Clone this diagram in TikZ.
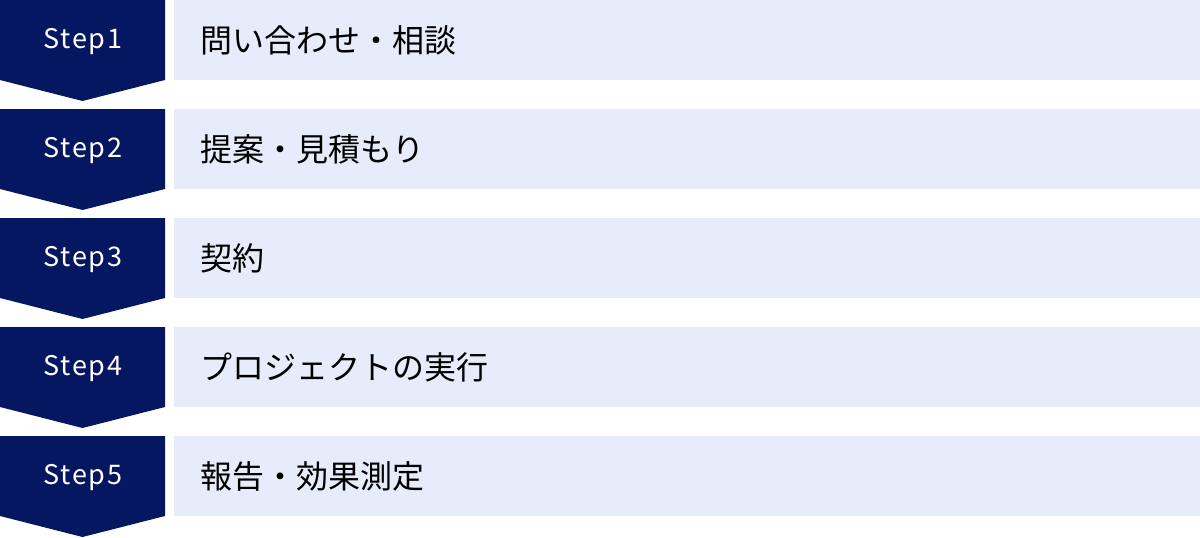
\documentclass[tikz,border=0pt]{standalone}
\usepackage{fontspec}
\setmainfont{Noto Sans CJK JP}
\newfontfamily\stepfont[LetterSpace=6]{Noto Sans CJK JP}
\usetikzlibrary{positioning}
\definecolor{stepnavy}{HTML}{051761}
\definecolor{steplight}{HTML}{E6ECF9}

\begin{document}
\begin{tikzpicture}[x=1pt,y=1pt]
    \tikzstyle{steplabel} = [text=white, inner sep=0pt, font=\stepfont\fontsize{27}{32}\selectfont];
    \tikzstyle{stepbar} = [fill=steplight, minimum width=1026pt, minimum height=80pt, inner sep=0pt, anchor=north west];
    \tikzstyle{steptext} = [anchor=west, inner sep=0pt, font=\fontsize{32}{38}\selectfont];

    \useasboundingbox (0,0) rectangle (1200,-538);

    \foreach \n/\t [count=\i from 0] in {1/問い合わせ・相談, 2/提案・見積もり, 3/契約, 4/プロジェクトの実行, 5/報告・効果測定} {
        \pgfmathsetmacro\top{-109*\i}
        % chevron
        \fill[stepnavy] (0,\top) -- (165,\top) -- (165,\top-80) -- (82.5,\top-101) -- (0,\top-80) -- cycle;
        \node[steplabel](step\n) at (83,\top-42) {Step\n};
        % bar
        \node[stepbar](bar\n) at (174,\top) {};
        \node[steptext](text\n) at ([xshift=26pt]bar\n.west) {\t};
    }
\end{tikzpicture}
\end{document}
